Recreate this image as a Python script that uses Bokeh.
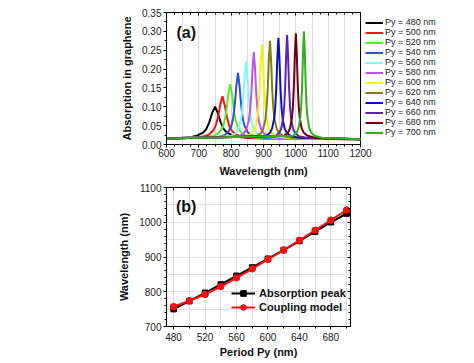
from bokeh.plotting import figure
from bokeh.models import (Range1d, LinearAxis, Legend, LegendItem, Label,
                          FixedTicker, PrintfTickFormatter, CustomJSTickFormatter)
from bokeh.layouts import column
from bokeh.embed import file_html
from bokeh.resources import INLINE

FONT = "Liberation Sans"

# ---------------- data: panel (a) absorption spectra ----------------
py_labels = ["Py = 480 nm", "Py = 500 nm", "Py = 520 nm", "Py = 540 nm",
             "Py = 560 nm", "Py = 580 nm", "Py = 600 nm", "Py = 620 nm",
             "Py = 640 nm", "Py = 660 nm", "Py = 680 nm", "Py = 700 nm"]
py_colors = ["#000000", "#ff1010", "#5ee82a", "#3050d0", "#80f8f0", "#c050f0",
             "#f0f020", "#808010", "#1010b0", "#6020c0", "#700010", "#30b020"]

wl_480 = [600, 642, 678, 696, 714, 723, 732, 741, 750, 759, 768, 777, 786, 804, 822, 858, 930, 1200]
ab_480 = [0.016, 0.017, 0.020, 0.024, 0.032, 0.041, 0.058, 0.083, 0.100, 0.083, 0.058, 0.041, 0.032, 0.024, 0.020, 0.017, 0.016, 0.014]
wl_500 = [600, 689, 717, 731, 745, 752, 759, 766, 773, 780, 787, 794, 801, 815, 829, 857, 913, 1200]
ab_500 = [0.016, 0.018, 0.022, 0.026, 0.038, 0.050, 0.072, 0.105, 0.128, 0.105, 0.072, 0.050, 0.038, 0.026, 0.022, 0.018, 0.016, 0.014]
wl_520 = [600, 725, 749, 761, 773, 779, 785, 791, 797, 803, 809, 815, 821, 833, 845, 869, 917, 1200]
ab_520 = [0.016, 0.019, 0.024, 0.030, 0.044, 0.060, 0.088, 0.131, 0.160, 0.131, 0.088, 0.060, 0.044, 0.030, 0.024, 0.019, 0.016, 0.014]
wl_540 = [600, 761, 781, 791, 801, 806, 811, 816, 821, 826, 831, 836, 841, 851, 861, 881, 921, 1200]
ab_540 = [0.016, 0.020, 0.025, 0.033, 0.050, 0.069, 0.103, 0.155, 0.190, 0.155, 0.103, 0.069, 0.050, 0.033, 0.025, 0.020, 0.017, 0.014]
wl_560 = [600, 792, 810, 819, 828, 832.5, 837, 841.5, 846, 850.5, 855, 859.5, 864, 873, 882, 900, 936, 1200]
ab_560 = [0.016, 0.021, 0.027, 0.036, 0.056, 0.078, 0.118, 0.179, 0.220, 0.179, 0.118, 0.078, 0.056, 0.036, 0.027, 0.021, 0.017, 0.014]
wl_580 = [600, 822, 838, 846, 854, 858, 862, 866, 870, 874, 878, 882, 886, 894, 902, 918, 950, 1200]
ab_580 = [0.016, 0.021, 0.029, 0.038, 0.061, 0.086, 0.130, 0.199, 0.245, 0.199, 0.130, 0.086, 0.061, 0.038, 0.029, 0.021, 0.017, 0.014]
wl_600 = [600, 850, 865, 872.5, 880, 883.8, 887.5, 891.3, 895, 898.8, 902.5, 906.3, 910, 917.5, 925, 940, 970, 1200]
ab_600 = [0.016, 0.022, 0.030, 0.040, 0.065, 0.092, 0.140, 0.215, 0.265, 0.215, 0.140, 0.092, 0.065, 0.040, 0.030, 0.022, 0.018, 0.014]
wl_620 = [600, 878, 892, 899, 906, 909.5, 913, 916.5, 920, 923.5, 927, 930.5, 934, 941, 948, 962, 990, 1200]
ab_620 = [0.016, 0.022, 0.030, 0.041, 0.067, 0.095, 0.145, 0.223, 0.275, 0.223, 0.145, 0.095, 0.067, 0.041, 0.030, 0.022, 0.018, 0.014]
wl_640 = [600, 907, 920, 926.5, 933, 936.3, 939.5, 942.8, 946, 949.3, 952.5, 955.8, 959, 965.5, 972, 985, 1011, 1200]
ab_640 = [0.016, 0.022, 0.031, 0.042, 0.069, 0.098, 0.149, 0.229, 0.283, 0.229, 0.149, 0.098, 0.069, 0.042, 0.031, 0.022, 0.018, 0.014]
wl_660 = [600, 937, 949, 955, 961, 964, 967, 970, 973, 976, 979, 982, 985, 991, 997, 1009, 1033, 1200]
ab_660 = [0.016, 0.022, 0.031, 0.043, 0.070, 0.100, 0.153, 0.235, 0.290, 0.235, 0.153, 0.100, 0.070, 0.043, 0.031, 0.022, 0.018, 0.014]
wl_680 = [600, 964, 976, 982, 988, 991, 994, 997, 1000, 1003, 1006, 1009, 1012, 1018, 1024, 1036, 1060, 1200]
ab_680 = [0.016, 0.023, 0.032, 0.043, 0.071, 0.101, 0.155, 0.239, 0.295, 0.239, 0.155, 0.101, 0.071, 0.043, 0.032, 0.023, 0.018, 0.014]
wl_700 = [600, 992, 1003, 1008.5, 1014, 1016.8, 1019.5, 1022.3, 1025, 1027.8, 1030.5, 1033.3, 1036, 1041.5, 1047, 1058, 1080, 1200]
ab_700 = [0.016, 0.023, 0.032, 0.044, 0.072, 0.103, 0.158, 0.243, 0.300, 0.243, 0.158, 0.103, 0.072, 0.044, 0.032, 0.023, 0.018, 0.014]

spectra_x = [wl_480, wl_500, wl_520, wl_540, wl_560, wl_580, wl_600, wl_620, wl_640, wl_660, wl_680, wl_700]
spectra_y = [ab_480, ab_500, ab_520, ab_540, ab_560, ab_580, ab_600, ab_620, ab_640, ab_660, ab_680, ab_700]

top_x_ticks = [600, 700, 800, 900, 1000, 1100, 1200]
top_y_ticks = [0.00, 0.05, 0.10, 0.15, 0.20, 0.25, 0.30, 0.35]

# ---------------- data: panel (b) peak positions ----------------
period_py = [480, 500, 520, 540, 560, 580, 600, 620, 640, 660, 680, 700]
absorption_peak = [750, 773, 797, 821, 846, 870, 895, 920, 946, 973, 1000, 1025]
coupling_model = [757, 774, 792, 815, 840, 866, 893, 920, 948, 977, 1006, 1035]

bot_x_ticks = [480, 520, 560, 600, 640, 680]
bot_y_ticks = [700, 800, 900, 1000, 1100]


def style_axes(ax, label_size="10px"):
    ax.axis_line_color = "black"
    ax.major_tick_line_color = "black"
    ax.minor_tick_line_color = "black"
    ax.major_tick_out = 3
    ax.major_tick_in = 0
    ax.minor_tick_out = 2
    ax.minor_tick_in = 0
    ax.major_label_text_font = FONT
    ax.major_label_text_font_size = label_size
    ax.major_label_text_color = "#222222"
    ax.axis_label_text_font = FONT
    ax.axis_label_text_font_size = "11px"
    ax.axis_label_text_font_style = "bold"
    ax.axis_label_text_color = "#111111"


def mirror_axis(p, ticker, where):
    ax = LinearAxis(ticker=ticker, formatter=CustomJSTickFormatter(code="return ''"))
    ax.major_label_standoff = 0
    ax.major_tick_in = 3
    ax.major_tick_out = 0
    ax.minor_tick_in = 2
    ax.minor_tick_out = 0
    ax.axis_line_color = "black"
    p.add_layout(ax, where)


# ---------------- panel (a) ----------------
p1 = figure(frame_width=194, frame_height=132,
            min_border_left=165, min_border_right=0,
            min_border_top=12, min_border_bottom=36,
            x_range=Range1d(600, 1200), y_range=Range1d(0, 0.35),
            output_backend="svg", toolbar_location=None,
            background_fill_color="white", border_fill_color="white")
p1.outline_line_color = "black"
p1.outline_line_alpha = 1

xt1 = FixedTicker(ticks=top_x_ticks, minor_ticks=list(range(600, 1201, 25)))
yt1 = FixedTicker(ticks=top_y_ticks, minor_ticks=[i * 0.025 for i in range(15)])
p1.xaxis.ticker = xt1
p1.yaxis.ticker = yt1
p1.yaxis.formatter = PrintfTickFormatter(format="%.2f")
p1.xaxis.axis_label = "Wavelength (nm)"
p1.yaxis.axis_label = "Absorption in graphene"
style_axes(p1.xaxis[0])
style_axes(p1.yaxis[0])
p1.xaxis.major_label_standoff = 1
p1.yaxis.major_label_standoff = 2
p1.xaxis.axis_label_standoff = 5
p1.yaxis.axis_label_standoff = 6
p1.xgrid.ticker = FixedTicker(ticks=list(range(600, 1201, 50)))
p1.xgrid.grid_line_color = "#dcdcdc"
p1.ygrid.visible = False
mirror_axis(p1, xt1, "above")

items = []
for xs, ys, lab, col in zip(spectra_x, spectra_y, py_labels, py_colors):
    r = p1.line(xs, ys, line_color=col, line_width=2)
    items.append(LegendItem(label=lab, renderers=[r]))

leg1 = Legend(items=items, location="top_left")
leg1.border_line_color = None
leg1.background_fill_alpha = 0
leg1.padding = 2
leg1.margin = 5
leg1.spacing = 0
leg1.glyph_height = 9
leg1.label_height = 9
leg1.glyph_width = 18
leg1.label_standoff = 2
leg1.label_text_font = FONT
leg1.label_text_font_size = "9px"
leg1.label_text_color = "#222222"
p1.add_layout(leg1, "right")

p1.add_layout(Label(x=631, y=0.297, text="(a)", text_font=FONT,
                    text_font_size="16px", text_font_style="bold",
                    text_baseline="middle", text_color="#111111"))

# ---------------- panel (b) ----------------
p2 = figure(frame_width=184, frame_height=139,
            min_border_left=166, min_border_right=20,
            min_border_top=7, min_border_bottom=37,
            x_range=Range1d(471, 705), y_range=Range1d(700, 1100),
            output_backend="svg", toolbar_location=None,
            background_fill_color="white", border_fill_color="white")
p2.outline_line_color = "black"
p2.outline_line_alpha = 1

xt2 = FixedTicker(ticks=bot_x_ticks, minor_ticks=list(range(480, 701, 20)))
yt2 = FixedTicker(ticks=bot_y_ticks, minor_ticks=list(range(700, 1101, 20)))
p2.xaxis.ticker = xt2
p2.yaxis.ticker = yt2
p2.xaxis.axis_label = "Period Py (nm)"
p2.yaxis.axis_label = "Wavelength (nm)"
style_axes(p2.xaxis[0])
style_axes(p2.yaxis[0])
p2.xaxis.major_label_standoff = 3
p2.yaxis.major_label_standoff = 2
p2.xaxis.axis_label_standoff = 2
p2.yaxis.axis_label_standoff = 6
p2.xgrid.ticker = FixedTicker(ticks=list(range(480, 701, 20)))
p2.ygrid.ticker = FixedTicker(ticks=list(range(700, 1101, 50)))
p2.xgrid.grid_line_color = "#e2e2e2"
p2.ygrid.grid_line_color = "#e2e2e2"
mirror_axis(p2, xt2, "above")
mirror_axis(p2, yt2, "right")

l_abs = p2.line(period_py, absorption_peak, line_color="black", line_width=2)
s_abs = p2.scatter(period_py, absorption_peak, marker="square", size=5.5,
                   fill_color="black", line_color="black")
l_cpl = p2.line(period_py, coupling_model, line_color="#ee1111", line_width=2)
s_cpl = p2.scatter(period_py, coupling_model, marker="circle", size=6.5,
                   fill_color="#ee1111", line_color="#ee1111")

leg2 = Legend(items=[LegendItem(label="Absorption peak", renderers=[l_abs, s_abs]),
                     LegendItem(label="Coupling model", renderers=[l_cpl, s_cpl])],
              location=(65, 12))
leg2.border_line_color = None
leg2.background_fill_alpha = 0
leg2.padding = 2
leg2.margin = 0
leg2.spacing = 0
leg2.glyph_height = 14
leg2.label_height = 14
leg2.glyph_width = 24
leg2.label_standoff = 4
leg2.label_text_font = FONT
leg2.label_text_font_size = "11px"
leg2.label_text_font_style = "bold"
leg2.label_text_color = "#111111"
p2.add_layout(leg2)

p2.add_layout(Label(x=483, y=1045, text="(b)", text_font=FONT,
                    text_font_size="16px", text_font_style="bold",
                    text_baseline="middle", text_color="#111111"))

layout = column(p1, p2)
open("out.html", "w").write(file_html(layout, INLINE))
